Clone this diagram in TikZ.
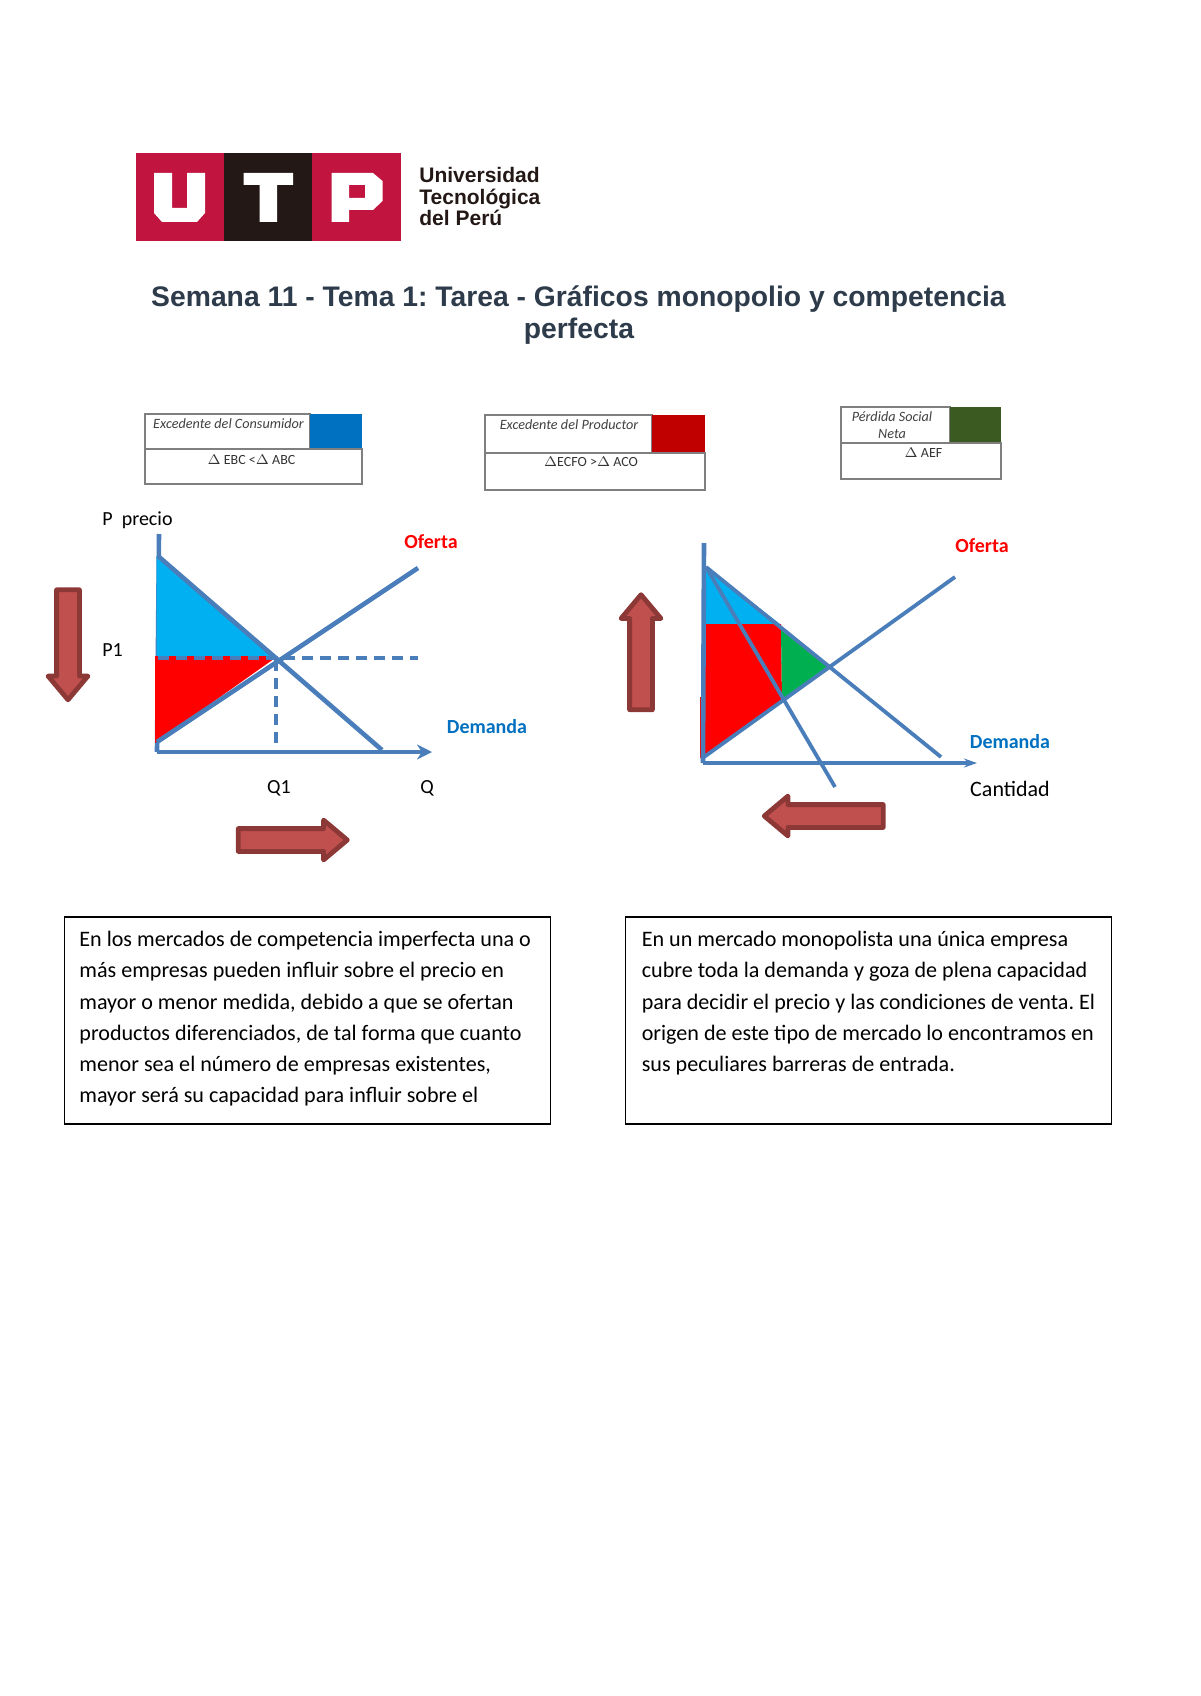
\documentclass[tikz,border=0pt]{standalone}
\usepackage{fontspec}
\setmainfont{Carlito}
\newfontfamily\headfont{Liberation Sans}
\usetikzlibrary{positioning}
\usetikzlibrary{shapes.arrows}
\usetikzlibrary{arrows.meta}
\frenchspacing
\definecolor{logored}{HTML}{C1143F}
\definecolor{logodark}{HTML}{231815}
\definecolor{titleink}{HTML}{2D3B4A}
\definecolor{curve}{HTML}{4A7EBB}
\definecolor{arrowfill}{HTML}{C0504D}
\definecolor{arrowline}{HTML}{8C3836}
\definecolor{cellline}{HTML}{7F7F7F}
\definecolor{surplusblue}{HTML}{00B0F0}
\definecolor{lossgreen}{HTML}{00B050}
\definecolor{swatchblue}{HTML}{0070C0}
\definecolor{swatchred}{HTML}{C00000}
\definecolor{swatchgreen}{HTML}{3B5A21}
\begin{document}
\begin{tikzpicture}
	[x=0.5pt,y=-0.5pt,>=stealth,
	curveline/.style={draw=curve,line width=2.3pt},
	thinline/.style={draw=curve,line width=1.9pt},
	dashline/.style={draw=curve,line width=2.3pt,dash pattern=on 5.5pt off 3.5pt},
	axisline/.style={draw=curve,line width=2.3pt,-{Stealth[length=7.5pt,width=7.5pt]}},
	smallaxis/.style={draw=curve,line width=2.1pt,-{Stealth[length=6.5pt,width=4.5pt]}},
	blockarrow/.style={single arrow,draw=arrowline,fill=arrowfill,line width=2.4pt,line join=round,inner xsep=0pt,inner ysep=4.5pt,outer sep=0pt,minimum width=17.5pt,single arrow head extend=4.25pt,single arrow tip angle=80,single arrow head indent=0pt},
	cell/.style={rectangle,draw=cellline,line width=0.7pt,inner sep=0pt,outer sep=0pt,anchor=north west},
	swatch/.style={rectangle,inner sep=0pt,outer sep=0pt,anchor=north west},
	celltext/.style={font=\fontsize{7.1}{9}\selectfont\itshape,text=black!75,inner sep=0pt,align=center},
	areatext/.style={font=\fontsize{7}{9}\selectfont,text=black!80,inner sep=0pt,align=center},
	axislabel/.style={font=\fontsize{10}{12}\selectfont,inner sep=0pt},
	offerlabel/.style={font=\fontsize{10}{12}\selectfont\bfseries,text=red,inner sep=0pt},
	demandlabel/.style={font=\fontsize{10}{12}\selectfont\bfseries,text=swatchblue,inner sep=0pt},
	textbox/.style={rectangle,draw=black,line width=0.6pt,inner sep=0pt,outer sep=0pt,anchor=north west,minimum width=243pt,minimum height=103.5pt},
	boxtext/.style={anchor=north west,inner sep=0pt,align=left,font=\fontsize{11.05}{15.6}\selectfont},
	titletext/.style={font=\headfont\bfseries\fontsize{14.15}{16}\selectfont,text=titleink,inner sep=0pt},
	logoletter/.style={fill=white},
	logotext/.style={anchor=base west,inner sep=0pt,font=\headfont\bfseries\fontsize{10.5}{12}\selectfont,text=logodark}]
	\useasboundingbox (0,0) rectangle (1200,1696);
	\fill [logored] (136,153) rectangle (401,241);
	\fill [logodark] (224,153) rectangle (312,241);
	\fill [logoletter] (154,173) -- (172,173) -- (172,208) -- (187,208) -- (187,173) -- (205,173) -- (205,213) -- (197,222) -- (162,222) -- (154,213) -- cycle;
	\fill [logoletter] (243.5,173) rectangle (293,185) (259.5,185) rectangle (277,222);
	\fill [logoletter,even odd rule] (331.5,173) -- (373,173) -- (382.5,181) -- (382.5,201) -- (373,210) -- (349,210) -- (349,222) -- (331.5,222) -- cycle (349,185) rectangle (365,198);
	\node at (419,183) [logotext] (logouni) {Universidad};
	\node at (419,205) [logotext] (logotec) {Tecnológica};
	\node at (419,226) [logotext] (logodel) {del Perú};
	\node at (578.5,299) [titletext] (title1) {Semana 11 - Tema 1: Tarea - Gráficos monopolio y competencia};
	\node at (579,331) [titletext] (title2) {perfecta};
	\node at (145,414) [cell,minimum width=82.5pt,minimum height=17.5pt] (consumer) {};
	\node at (310,414) [swatch,fill=swatchblue,minimum width=26pt,minimum height=17.5pt] (consumerbox) {};
	\node [cell,minimum width=108.5pt,minimum height=17.5pt,below=0pt of consumer.south west,anchor=north west] (consumerrow) {};
	\node at (228.5,424) [celltext] (consumertext) {Excedente del Consumidor};
	\node at (251.5,460) [areatext] (consumerarea) {$\Delta$ EBC <$\Delta$ ABC};
	\node at (485,415) [cell,minimum width=83.5pt,minimum height=19pt] (producer) {};
	\node at (652,415) [swatch,fill=swatchred,minimum width=26.5pt,minimum height=19pt] (producerbox) {};
	\node [cell,minimum width=110pt,minimum height=18.5pt,below=0pt of producer.south west,anchor=north west] (producerrow) {};
	\node at (569,425) [celltext] (producertext) {Excedente del Productor};
	\node at (591,462) [areatext] (producerarea) {$\Delta$ECFO >$\Delta$ ACO};
	\node at (841,407) [cell,minimum width=54.5pt,minimum height=18pt] (loss) {};
	\node at (950,407) [swatch,fill=swatchgreen,minimum width=25.5pt,minimum height=18pt] (lossbox) {};
	\node [cell,minimum width=80pt,minimum height=18pt,below=0pt of loss.south west,anchor=north west] (lossrow) {};
	\node at (892,417) [celltext] (losstext1) {Pérdida Social};
	\node at (892,434) [celltext] (losstext2) {Neta};
	\node at (923.5,453) [areatext] (lossarea) {$\Delta$ AEF};
	\coordinate (ltop) at (159,534);
	\coordinate (lorigin) at (157,752);
	\coordinate (lqend) at (432,752);
	\coordinate (ldemtop) at (158,556);
	\coordinate (ldemend) at (382,750);
	\coordinate (lsupstart) at (157,742);
	\coordinate (lsupend) at (418,568);
	\coordinate (lpone) at (158,658);
	\coordinate (lponeend) at (418,658);
	\coordinate (lcross) at (276,660);
	\coordinate (lqone) at (276,751);
	\draw [curveline] (ltop) -- (lorigin);
	\fill [surplusblue] (156.7,556) -- (156.7,657) -- (278,657) -- cycle;
	\fill [red] (155,656) -- (278,656) -- (155,743) -- cycle;
	\draw [axisline] (lorigin) -- (lqend);
	\draw [curveline] (ldemtop) -- (ldemend);
	\draw [curveline] (lsupstart) -- (lsupend);
	\draw [dashline] (lpone) -- (lponeend);
	\draw [dashline] (lcross) -- (lqone);
	\node at (102,520) [axislabel,anchor=west] (pprecio) {P\ \ precio};
	\node at (102,650) [axislabel,anchor=west] (pone) {P1};
	\node at (279,788) [axislabel] (qone) {Q1};
	\node at (427,788) [axislabel] (qlabel) {Q};
	\node at (431,542) [offerlabel] (oferta1) {Oferta};
	\node at (487,727) [demandlabel] (demanda1) {Demanda};
	\node at (68,638) [blockarrow,rotate=-90,minimum height=55pt] (downarrow) {};
	\node at (286,840) [blockarrow,minimum height=54.5pt] (rightarrow) {};
	\fill [surplusblue] (706,567) -- (706,624) -- (780,624) -- cycle;
	\fill [red] (706,624) -- (781,624) -- (782,702) -- (704,758) -- (700,758) -- (700,697) -- (702,697) -- (702,660) -- (706,660) -- cycle;
	\fill [lossgreen] (781,630) -- (828,666) -- (782,700) -- cycle;
	\coordinate (rtop) at (704,543);
	\coordinate (rorigin) at (703,763);
	\coordinate (rqend) at (977,763);
	\coordinate (rdemtop) at (706,567);
	\coordinate (rdemend) at (941,757);
	\coordinate (rsupstart) at (704,757);
	\coordinate (rsupend) at (955,577);
	\coordinate (rmgend) at (835,787);
	\draw [curveline] (rtop) -- (rorigin);
	\draw [smallaxis] (rorigin) -- (rqend);
	\draw [thinline] (rdemtop) -- (rdemend);
	\draw [thinline] (rsupstart) -- (rsupend);
	\draw [thinline] (rdemtop) -- (rmgend);
	\node at (982,546) [offerlabel] (oferta2) {Oferta};
	\node at (1010,742) [demandlabel] (demanda2) {Demanda};
	\node at (1010,789) [axislabel,font=\fontsize{11}{13}\selectfont] (cantidad) {Cantidad};
	\node at (641,659) [blockarrow,rotate=90,minimum height=57.5pt] (uparrow) {};
	\node at (830.5,816) [blockarrow,rotate=180,minimum height=59.5pt] (leftarrow) {};
	\node at (64.3,917) [textbox] (leftbox) {};
	\node at (79,931) [boxtext] (lefttext) {En los mercados de competencia imperfecta una o\\más empresas pueden influir sobre el precio en\\mayor o menor medida, debido a que se ofertan\\productos diferenciados, de tal forma que cuanto\\menor sea el número de empresas existentes,\\mayor será su capacidad para influir sobre el};
	\node at (625.7,917) [textbox] (rightbox) {};
	\node at (641.4,931) [boxtext] (righttext) {En un mercado monopolista una única empresa\\cubre toda la demanda y goza de plena capacidad\\para decidir el precio y las condiciones de venta. El\\origen de este tipo de mercado lo encontramos en\\sus peculiares barreras de entrada.};
\end{tikzpicture}
\end{document}
